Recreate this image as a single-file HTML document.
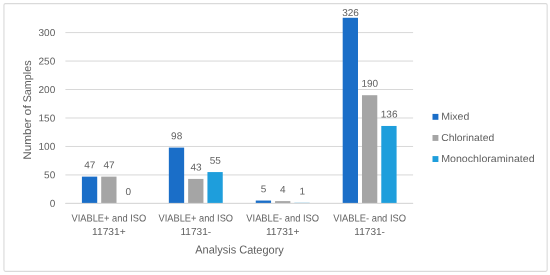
<!DOCTYPE html>
<html lang="en"><head><meta charset="utf-8"><title>Analysis Category chart</title>
<style>html,body{margin:0;padding:0;background:#fff;}body{width:550px;height:275px;overflow:hidden;}svg{display:block;}text{font-family:"Liberation Sans",sans-serif;fill:#626262;text-rendering:geometricPrecision;}</style></head><body>
<svg width="550" height="275" viewBox="0 0 550 275">
<rect x="0" y="0" width="550" height="275" fill="#ffffff"/>
<rect x="3.95" y="3.6" width="543.2" height="267.75" rx="1.5" fill="none" stroke="#dadada" stroke-width="1.1"/>
<line x1="65.40" y1="203.40" x2="413.10" y2="203.40" stroke="#d8d8d8" stroke-width="1"/>
<line x1="65.40" y1="174.93" x2="413.10" y2="174.93" stroke="#d8d8d8" stroke-width="1"/>
<line x1="65.40" y1="146.46" x2="413.10" y2="146.46" stroke="#d8d8d8" stroke-width="1"/>
<line x1="65.40" y1="117.99" x2="413.10" y2="117.99" stroke="#d8d8d8" stroke-width="1"/>
<line x1="65.40" y1="89.52" x2="413.10" y2="89.52" stroke="#d8d8d8" stroke-width="1"/>
<line x1="65.40" y1="61.05" x2="413.10" y2="61.05" stroke="#d8d8d8" stroke-width="1"/>
<line x1="65.40" y1="32.58" x2="413.10" y2="32.58" stroke="#d8d8d8" stroke-width="1"/>
<text x="49.72" y="206.80" font-size="9.90" textLength="5.58" lengthAdjust="spacingAndGlyphs" transform="rotate(0.04 49.72 206.80)">0</text>
<text x="44.14" y="178.33" font-size="9.90" textLength="11.16" lengthAdjust="spacingAndGlyphs" transform="rotate(0.04 44.14 178.33)">50</text>
<text x="38.56" y="149.86" font-size="9.90" textLength="16.74" lengthAdjust="spacingAndGlyphs" transform="rotate(0.04 38.56 149.86)">100</text>
<text x="38.56" y="121.39" font-size="9.90" textLength="16.74" lengthAdjust="spacingAndGlyphs" transform="rotate(0.04 38.56 121.39)">150</text>
<text x="38.56" y="92.92" font-size="9.90" textLength="16.74" lengthAdjust="spacingAndGlyphs" transform="rotate(0.04 38.56 92.92)">200</text>
<text x="38.56" y="64.45" font-size="9.90" textLength="16.74" lengthAdjust="spacingAndGlyphs" transform="rotate(0.04 38.56 64.45)">250</text>
<text x="38.56" y="35.98" font-size="9.90" textLength="16.74" lengthAdjust="spacingAndGlyphs" transform="rotate(0.04 38.56 35.98)">300</text>
<rect x="81.91" y="176.64" width="15.30" height="26.46" fill="#1a6ec8"/>
<text x="84.18" y="168.24" font-size="9.90" textLength="11.16" lengthAdjust="spacingAndGlyphs" transform="rotate(0.04 84.18 168.24)">47</text>
<rect x="101.21" y="176.64" width="15.30" height="26.46" fill="#a5a5a5"/>
<text x="103.48" y="168.24" font-size="9.90" textLength="11.16" lengthAdjust="spacingAndGlyphs" transform="rotate(0.04 103.48 168.24)">47</text>
<text x="125.57" y="195.00" font-size="9.90" textLength="5.58" lengthAdjust="spacingAndGlyphs" transform="rotate(0.04 125.57 195.00)">0</text>
<rect x="168.84" y="147.60" width="15.30" height="55.50" fill="#1a6ec8"/>
<text x="171.11" y="139.20" font-size="9.90" textLength="11.16" lengthAdjust="spacingAndGlyphs" transform="rotate(0.04 171.11 139.20)">98</text>
<rect x="188.14" y="178.92" width="15.30" height="24.18" fill="#a5a5a5"/>
<text x="190.41" y="170.52" font-size="9.90" textLength="11.16" lengthAdjust="spacingAndGlyphs" transform="rotate(0.04 190.41 170.52)">43</text>
<rect x="207.44" y="172.08" width="15.30" height="31.02" fill="#1e9edc"/>
<text x="209.71" y="163.68" font-size="9.90" textLength="11.16" lengthAdjust="spacingAndGlyphs" transform="rotate(0.04 209.71 163.68)">55</text>
<rect x="255.76" y="200.55" width="15.30" height="2.55" fill="#1a6ec8"/>
<text x="260.82" y="192.15" font-size="9.90" textLength="5.58" lengthAdjust="spacingAndGlyphs" transform="rotate(0.04 260.82 192.15)">5</text>
<rect x="275.06" y="201.12" width="15.30" height="1.98" fill="#a5a5a5"/>
<text x="280.12" y="192.72" font-size="9.90" textLength="5.58" lengthAdjust="spacingAndGlyphs" transform="rotate(0.04 280.12 192.72)">4</text>
<rect x="294.36" y="202.83" width="15.30" height="0.27" fill="#1e9edc"/>
<text x="299.42" y="194.43" font-size="9.90" textLength="5.58" lengthAdjust="spacingAndGlyphs" transform="rotate(0.04 299.42 194.43)">1</text>
<rect x="342.69" y="17.78" width="15.30" height="185.32" fill="#1a6ec8"/>
<text x="342.17" y="16.00" font-size="9.90" textLength="16.74" lengthAdjust="spacingAndGlyphs" transform="rotate(0.04 342.17 16.00)">326</text>
<rect x="361.99" y="95.21" width="15.30" height="107.89" fill="#a5a5a5"/>
<text x="361.47" y="86.81" font-size="9.90" textLength="16.74" lengthAdjust="spacingAndGlyphs" transform="rotate(0.04 361.47 86.81)">190</text>
<rect x="381.29" y="125.96" width="15.30" height="77.14" fill="#1e9edc"/>
<text x="380.77" y="117.56" font-size="9.90" textLength="16.74" lengthAdjust="spacingAndGlyphs" transform="rotate(0.04 380.77 117.56)">136</text>
<line x1="65.40" y1="203.40" x2="413.10" y2="203.40" stroke="#d8d8d8" stroke-width="1"/>
<text x="71.56" y="221.40" font-size="10.10" textLength="74.60" lengthAdjust="spacingAndGlyphs" transform="rotate(0.04 71.56 221.40)">VIABLE+ and ISO</text>
<text x="92.06" y="235.10" font-size="10.10" textLength="33.60" lengthAdjust="spacingAndGlyphs" transform="rotate(0.04 92.06 235.10)">11731+</text>
<text x="158.49" y="221.40" font-size="10.10" textLength="74.60" lengthAdjust="spacingAndGlyphs" transform="rotate(0.04 158.49 221.40)">VIABLE+ and ISO</text>
<text x="180.44" y="235.10" font-size="10.10" textLength="30.70" lengthAdjust="spacingAndGlyphs" transform="rotate(0.04 180.44 235.10)">11731-</text>
<text x="246.31" y="221.40" font-size="10.10" textLength="72.80" lengthAdjust="spacingAndGlyphs" transform="rotate(0.04 246.31 221.40)">VIABLE- and ISO</text>
<text x="265.91" y="235.10" font-size="10.10" textLength="33.60" lengthAdjust="spacingAndGlyphs" transform="rotate(0.04 265.91 235.10)">11731+</text>
<text x="333.24" y="221.40" font-size="10.10" textLength="72.80" lengthAdjust="spacingAndGlyphs" transform="rotate(0.04 333.24 221.40)">VIABLE- and ISO</text>
<text x="354.29" y="235.10" font-size="10.10" textLength="30.70" lengthAdjust="spacingAndGlyphs" transform="rotate(0.04 354.29 235.10)">11731-</text>
<text x="195.25" y="253.60" font-size="11.50" textLength="88.60" lengthAdjust="spacingAndGlyphs" transform="rotate(0.04 195.25 253.60)">Analysis Category</text>
<text font-size="11.10" transform="translate(31.3,110.05) rotate(-90)"><tspan x="-49.6" y="0" textLength="41.4" lengthAdjust="spacingAndGlyphs">Number</tspan> <tspan x="-5.4" y="0" textLength="10.3" lengthAdjust="spacingAndGlyphs">of</tspan> <tspan x="7.7" y="0" textLength="41.9" lengthAdjust="spacingAndGlyphs">Samples</tspan></text>
<rect x="432.5" y="113.90" width="5.9" height="5.9" fill="#1a6ec8"/>
<text x="441.20" y="119.80" font-size="10.10" textLength="28.20" lengthAdjust="spacingAndGlyphs" transform="rotate(0.04 441.20 119.80)">Mixed</text>
<rect x="432.5" y="135.00" width="5.9" height="5.9" fill="#a5a5a5"/>
<text x="441.20" y="140.90" font-size="10.10" textLength="53.00" lengthAdjust="spacingAndGlyphs" transform="rotate(0.04 441.20 140.90)">Chlorinated</text>
<rect x="432.5" y="156.10" width="5.9" height="5.9" fill="#1e9edc"/>
<text x="441.20" y="162.00" font-size="10.10" textLength="93.40" lengthAdjust="spacingAndGlyphs" transform="rotate(0.04 441.20 162.00)">Monochloraminated</text>
</svg></body></html>
